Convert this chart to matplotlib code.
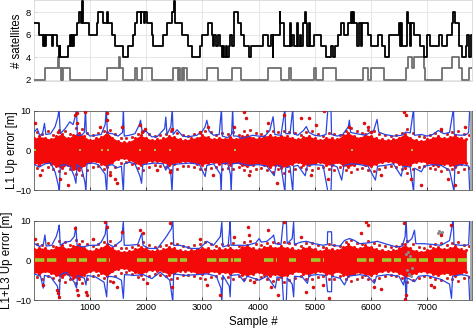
import numpy as np
import matplotlib
matplotlib.use("Agg")
import matplotlib.pyplot as plt

plt.rcParams['font.family'] = ['Liberation Sans', 'DejaVu Sans']

# ---------------------------------------------------------------- satellites
# step changes of the number of satellites: (first sample, count)
sat_l1_x = [0, 97, 157, 175, 195, 225, 317, 335, 417, 445, 460, 475, 614, 650, 665, 680, 700, 715,
            774, 810, 835, 850, 860, 870, 881, 988, 1119, 1148, 1237, 1297, 1327, 1386, 1446, 1594,
            1683, 1772, 1802, 1832, 1900, 1915, 1960, 1975, 2010, 2099, 2115, 2307, 2366, 2456, 2490,
            2505, 2634, 2740, 2812, 2961, 2990, 3109, 3169, 3190, 3210, 3240, 3270, 3317, 3347, 3370,
            3390, 3420, 3440, 3470, 3495, 3520, 3555, 3626, 3686, 3745, 3834, 3864, 4071, 4161, 4220,
            4250, 4265, 4375, 4390, 4458, 4560, 4575, 4600, 4640, 4680, 4695, 4740, 4760, 4790, 4830,
            4845, 4870, 4900, 4920, 4993, 5112, 5201, 5290, 5330, 5360, 5409, 5468, 5528, 5600, 5647,
            5660, 5680, 5706, 5760, 5780, 5830, 5850, 5944, 6003, 6122, 6200, 6258, 6317, 6495, 6520,
            6535, 6556, 6640, 6660, 6700, 6720, 6763, 6882, 6941, 7001, 7061, 7209, 7269, 7358, 7447,
            7470, 7490, 7566, 7626, 7685, 7715, 7744, 7790]
sat_l1_n = [7, 6, 5, 6, 5, 6, 5, 6, 5, 4, 5, 4, 5, 6, 5, 6, 5, 6,
            7, 8, 7, 8, 9, 8, 7, 6, 7, 8, 7, 8, 7, 6, 5, 4,
            5, 6, 7, 8, 7, 8, 7, 8, 7, 6, 5, 6, 7, 8, 9,
            7, 6, 5, 4, 5, 6, 7, 6, 5, 6, 5, 6, 5, 4, 5,
            4, 5, 4, 5, 6, 5, 8, 7, 6, 5, 4, 5, 6, 5, 6,
            4, 6, 8, 7, 5, 7, 5, 6, 5, 7, 5, 6, 5, 7, 8,
            7, 5, 7, 5, 6, 5, 4, 5, 4, 5, 6, 7, 6, 7, 8,
            7, 8, 7, 5, 7, 5, 7, 6, 5, 6, 5, 4, 6, 7, 5,
            7, 5, 8, 7, 5, 7, 6, 5, 4, 6, 5, 6, 5, 6, 7,
            8, 7, 5, 4, 5, 6, 4, 6]

sat_l3_x = [0, 198, 432, 442, 483, 495, 505, 524, 643, 1297, 1520, 1530, 1582, 1802, 1832, 1921,
            2099, 2474, 2574, 2590, 2610, 2630, 2650, 2670, 2723, 3080, 3287, 3525, 3686, 4161,
            4399, 4547, 4577, 4993, 5023, 5141, 5379, 5854, 5944, 6003, 6241, 6627, 6657, 6735,
            6760, 6941, 6971, 7269, 7447, 7565, 7626, 7744]
sat_l3_n = [2, 3, 4, 3, 2, 3, 2, 3, 2, 3, 4, 3, 2, 3, 2, 3,
            2, 3, 2, 3, 2, 3, 2, 3, 2, 3, 2, 3, 2, 3,
            2, 3, 2, 3, 2, 3, 2, 3, 2, 3, 2, 3, 4, 3,
            4, 3, 2, 3, 4, 3, 2, 3]

sample_end = 7800
x_ticks = [1000, 2000, 3000, 4000, 5000, 6000, 7000]

# ------------------------------------------------------------- error clouds
cloud_x = np.arange(0, 7800, 100)
fringe_x = cloud_x + 50

l1_cloud_hi = [3.0, 3.5, 3.2, 2.8, 3.6, 4.2, 3.0, 3.8, 4.5, 3.5, 2.6, 3.0, 3.4, 4.6, 3.2, 2.4,
               2.0, 2.2, 3.0, 3.8, 3.2, 2.6, 2.8, 3.0, 3.6, 3.4, 2.8, 2.6, 3.0, 3.2, 3.8, 3.4,
               2.8, 3.2, 2.9, 3.3, 2.8, 3.6, 3.9, 3.2, 3.0, 3.6, 3.8, 3.4, 3.7, 3.5, 3.2, 2.8,
               3.4, 3.6, 3.0, 2.6, 3.2, 3.0, 2.8, 3.8, 4.4, 3.6, 3.2, 4.0, 3.6, 3.0, 2.8, 2.6,
               2.8, 3.2, 4.2, 3.2, 2.6, 2.4, 2.8, 3.2, 3.6, 3.0, 3.4, 3.8, 3.0, 2.8]
l1_cloud_lo = [-3.2, -3.6, -3.0, -3.4, -4.0, -4.5, -3.6, -4.8, -5.0, -3.8, -3.0, -2.8, -3.4, -4.2,
               -3.0, -2.2, -2.0, -2.4, -3.2, -3.8, -3.0, -2.6, -2.8, -3.0, -3.8, -3.4, -2.9, -2.8,
               -3.0, -3.4, -3.6, -3.2, -3.0, -3.4, -3.2, -3.6, -3.0, -3.8, -4.0, -3.6, -3.2, -3.8,
               -4.2, -3.6, -4.4, -4.0, -3.4, -3.0, -3.6, -3.8, -3.2, -3.0, -3.6, -3.8, -3.0, -3.8,
               -4.2, -3.6, -3.2, -3.8, -4.0, -3.4, -3.0, -2.8, -3.0, -3.4, -4.4, -3.6, -3.0, -2.8,
               -3.2, -3.6, -4.0, -3.4, -3.6, -4.2, -3.4, -3.2]
# loose samples just outside the dense part of the cloud
l1_fringe_hi = [4.6, 4.2, 4.8, 3.9, 5.2, 5.0, 4.1, 5.6, 5.4, 4.3, 3.9, 4.4, 5.0, 5.2, 4.0, 3.2,
                3.0, 3.4, 4.2, 5.0, 4.2, 3.6, 3.9, 4.1, 4.8, 4.4, 3.8, 3.6, 4.2, 4.4, 5.0, 4.6,
                3.8, 4.4, 4.0, 4.6, 3.8, 4.9, 5.1, 4.4, 4.2, 4.8, 5.0, 4.6, 4.9, 4.7, 4.4, 3.9,
                4.6, 4.8, 4.2, 3.6, 4.4, 4.2, 3.9, 5.0, 5.6, 4.8, 4.4, 5.2, 4.8, 4.2, 3.9, 3.6,
                3.9, 4.4, 5.4, 4.3, 3.6, 3.4, 3.9, 4.4, 4.8, 4.2, 4.6, 5.0, 4.1, 3.9]
l1_fringe_lo = [-4.4, -4.9, -4.1, -4.6, -5.3, -5.8, -4.8, -6.0, -6.2, -5.0, -4.1, -3.9, -4.6, -5.4,
                -4.2, -3.2, -3.0, -3.5, -4.4, -5.0, -4.2, -3.7, -3.9, -4.2, -5.0, -4.6, -4.0, -3.9,
                -4.2, -4.6, -4.8, -4.4, -4.2, -4.6, -4.4, -4.8, -4.1, -5.0, -5.2, -4.8, -4.4, -5.0,
                -5.4, -4.8, -5.6, -5.2, -4.6, -4.1, -4.8, -5.0, -4.4, -4.1, -4.8, -5.0, -4.2, -5.0,
                -5.4, -4.8, -4.4, -5.0, -5.2, -4.6, -4.1, -3.9, -4.2, -4.6, -5.6, -4.8, -4.1, -3.9,
                -4.4, -4.8, -5.2, -4.6, -4.8, -5.4, -4.6, -4.4]

l13_cloud_hi = [2.8, 3.2, 3.0, 2.6, 3.4, 3.8, 2.8, 3.6, 4.0, 3.2, 2.4, 2.8, 3.2, 4.2, 3.0, 2.4,
                2.2, 2.4, 2.8, 3.4, 3.0, 2.4, 2.6, 2.8, 3.4, 3.0, 2.6, 2.4, 2.6, 2.8, 3.2, 3.0,
                2.6, 3.0, 2.8, 3.2, 2.6, 3.4, 3.8, 3.0, 2.8, 3.4, 3.6, 3.2, 3.6, 3.2, 3.0, 2.6,
                3.2, 3.4, 2.8, 2.4, 3.0, 2.8, 2.6, 3.4, 4.0, 3.4, 3.0, 3.8, 3.4, 2.8, 2.6, 2.4,
                2.6, 3.0, 4.0, 3.0, 2.4, 2.2, 2.6, 3.0, 3.4, 2.8, 3.2, 3.6, 2.8, 2.6]
l13_cloud_lo = [-3.0, -3.4, -2.8, -3.2, -3.8, -4.2, -3.4, -4.4, -4.6, -3.6, -2.8, -2.6, -3.2,
                -4.0, -2.8, -2.2, -2.0, -2.4, -3.0, -3.6, -2.8, -2.4, -2.6, -2.8, -3.6, -3.2,
                -2.6, -2.6, -2.8, -3.2, -3.4, -3.0, -2.8, -3.2, -3.0, -3.4, -2.8, -3.6, -3.8,
                -3.4, -3.0, -3.6, -4.0, -3.4, -4.2, -3.8, -3.2, -2.8, -3.4, -3.6, -3.0, -2.8,
                -3.4, -3.6, -2.8, -3.6, -4.0, -3.4, -3.0, -3.6, -3.8, -3.2, -2.8, -2.6, -2.8,
                -3.2, -4.2, -3.8, -3.2, -2.8, -3.0, -3.4, -3.8, -3.2, -3.4, -4.0, -3.2, -3.0]
l13_fringe_hi = [4.2, 3.9, 4.5, 3.6, 4.8, 4.6, 3.8, 5.2, 5.0, 4.0, 3.5, 4.0, 4.6, 5.0, 3.8, 3.2,
                 3.0, 3.3, 3.9, 4.6, 3.9, 3.4, 3.6, 3.8, 4.5, 4.0, 3.5, 3.4, 3.8, 4.0, 4.6, 4.2,
                 3.6, 4.0, 3.8, 4.3, 3.6, 4.6, 4.9, 4.1, 3.9, 4.5, 4.7, 4.3, 4.6, 4.4, 4.1, 3.6,
                 4.3, 4.5, 3.9, 3.4, 4.1, 3.9, 3.6, 4.6, 5.2, 4.4, 4.1, 4.9, 4.5, 3.9, 3.6, 3.4,
                 3.6, 4.1, 5.0, 4.0, 3.4, 3.2, 3.6, 4.1, 4.5, 3.9, 4.3, 4.7, 3.8, 3.6]
l13_fringe_lo = [-4.2, -4.6, -3.9, -4.4, -5.0, -5.5, -4.6, -5.6, -5.8, -4.8, -3.9, -3.7, -4.4,
                 -5.2, -4.0, -3.2, -3.0, -3.4, -4.2, -4.8, -4.0, -3.5, -3.7, -4.0, -4.8, -4.4,
                 -3.8, -3.7, -4.0, -4.4, -4.6, -4.2, -4.0, -4.4, -4.2, -4.6, -3.9, -4.8, -5.0,
                 -4.6, -4.2, -4.8, -5.2, -4.6, -5.4, -5.0, -4.4, -3.9, -4.6, -4.8, -4.2, -3.9,
                 -4.6, -4.8, -4.0, -4.8, -5.2, -4.6, -4.2, -4.8, -5.0, -4.4, -3.9, -3.7, -4.0,
                 -4.4, -5.4, -5.0, -4.4, -3.9, -4.2, -4.6, -5.0, -4.4, -4.6, -5.2, -4.4, -4.2]

# isolated error samples outside the main cloud: (sample, error in m)
l1_out_x = [20, 110, 435, 465, 614, 733, 762, 774, 911, 1178, 1297, 1310, 1356, 1446, 1476, 1565,
            1891, 1920, 1980, 2188, 2426, 2456, 2961, 3109, 3198, 3555, 3745, 3775, 3834, 4161,
            4328, 4458, 4755, 4903, 4933, 5023, 5159, 5230, 5617, 5884, 5944, 6003, 6182, 6597,
            6627, 6716, 6895, 7251, 7370, 7489, 7667]
l1_out_y = [6.8, -6.2, 4.7, -7.1, -8.7, 8.9, 9.3, 6.8, 9.7, 6.0, 9.3, 7.6, -6.2, -7.1, -8.3, 6.0,
            6.4, 4.7, 5.5, -5.0, -5.4, 5.5, 4.7, 6.0, -6.2, 6.0, 9.7, 8.1, -6.2, 6.8,
            -8.3, 8.9, 8.1, 8.1, -6.2, 6.4, 9.8, -7.1, 6.0, 6.8, 6.0, 4.7, -6.2, 9.7,
            8.9, -7.1, -8.7, 5.5, -7.1, -8.7, 6.0]

l13_out_x = [20, 168, 405, 435, 453, 733, 762, 792, 928, 940, 1059, 1267, 1297, 1416, 1476, 1565,
             1891, 1950, 2010, 2426, 2456, 2961, 3080, 3317, 3555, 3805, 3834, 3924, 4161, 4220,
             4339, 4458, 4755, 4845, 4963, 5141, 5260, 5825, 5914, 5944, 6063, 6182, 6597, 6615,
             6627, 7073, 7132, 7251, 7430]
l13_out_y = [5.5, -6.2, -7.5, -8.3, -9.2, 8.1, -7.5, -8.7, -7.9, -8.7, 5.5, 9.7, 8.5, -5.4, -6.6,
             7.2, 7.6, 6.8, -5.8, 9.3, -6.6, 5.5, -6.2, -8.7, 6.0, 8.5, 6.4, -5.4, 7.6, -6.6,
             -8.7, 9.7, 6.0, -7.9, -6.6, -6.2, -9.6, 6.8, 9.7, 8.9, -6.6, -7.1, 9.3, -9.8,
             -8.7, -6.2, -6.6, 6.4, 8.9]

# -------------------------------------------------------- error bounds (blue)
l1_up_x = [0, 60, 100, 150, 190, 215, 300, 380, 430, 450, 470, 560, 640, 700, 745, 760, 775, 850,
           900, 920, 935, 1000, 1100, 1200, 1270, 1290, 1310, 1400, 1500, 1580, 1594, 1610, 1700,
           1800, 1880, 1900, 1930, 2000, 2100, 2200, 2330, 2350, 2370, 2440, 2465, 2480, 2550, 2650,
           2750, 2900, 3000, 3050, 3080, 3120, 3200, 3300, 3340, 3355, 3450, 3520, 3540, 3555, 3620,
           3700, 3800, 3900, 4000, 4100, 4200, 4260, 4290, 4400, 4470, 4485, 4560, 4610, 4625, 4700,
           4800, 4850, 4900, 5000, 5100, 5200, 5235, 5290, 5300, 5400, 5500, 5600, 5617, 5640, 5750,
           5900, 6050, 6110, 6140, 6250, 6400, 6550, 6620, 6700, 6760, 6775, 6900, 7000, 7100, 7200,
           7300, 7400, 7470, 7485, 7600, 7700, 7740, 7760, 7800]
l1_up_y = [4.5, 5.5, 4.0, 3.8, 6.8, 4.0, 4.2, 6.0, 8.5, 10.5, 4.2, 5.5, 7.2, 6.5, 9.0, 10.5, 3.8, 3.8,
           4.5, 10.5, 4.5, 3.6, 3.8, 4.0, 6.5, 10.5, 4.4, 4.2, 3.6, 4.5, 10.5, 3.6, 3.8,
           4.2, 6.5, 7.6, 4.6, 4.8, 3.4, 3.5, 5.5, 8.4, 4.0, 6.0, 10.5, 4.0, 5.2, 3.6,
           3.4, 3.8, 4.8, 6.0, 7.6, 4.8, 3.8, 4.0, 10.5, 3.6, 3.2, 4.0, 10.5, 3.6, 3.6,
           3.0, 3.4, 3.8, 3.6, 3.4, 5.0, 8.5, 4.0, 3.8, 10.5, 4.2, 4.2, 10.5, 4.2, 3.8,
           5.0, 6.0, 4.5, 3.8, 3.6, 4.0, 10.5, 10.5, 4.0, 3.6, 4.0, 6.0, 7.6, 4.5, 4.2,
           3.8, 5.0, 7.8, 4.6, 4.0, 3.6, 3.8, 4.6, 4.4, 10.5, 3.8, 4.0, 3.6, 4.0, 5.0,
           4.2, 4.5, 10.5, 4.0, 3.8, 4.0, 4.5, 10.5, 10.5]
l1_lo_x = [0, 100, 200, 300, 380, 440, 455, 470, 560, 650, 720, 750, 770, 850, 910, 928, 945, 1050,
           1150, 1270, 1297, 1315, 1400, 1480, 1560, 1594, 1610, 1700, 1800, 1890, 1918, 1940, 2050,
           2150, 2300, 2350, 2380, 2440, 2460, 2480, 2600, 2800, 2950, 3050, 3080, 3200, 3320, 3335,
           3350, 3450, 3500, 3513, 3530, 3650, 3750, 3850, 4000, 4150, 4280, 4310, 4400, 4470, 4485,
           4560, 4610, 4625, 4700, 4830, 4870, 5000, 5150, 5235, 5290, 5305, 5400, 5480, 5520, 5650,
           5800, 5950, 6080, 6120, 6250, 6400, 6540, 6575, 6700, 6760, 6775, 6900, 6950, 7100, 7250,
           7400, 7460, 7480, 7495, 7600, 7700, 7740, 7760, 7800]
l1_lo_y = [-3.5, -4.2, -3.4, -3.2, -5.5, -9.0, -10.5, -3.8, -3.6, -4.2, -6.5, -8.3, -3.6, -4.5, -8.0,
           -10.5, -3.4, -3.2, -3.6, -6.0, -10.5, -3.8, -3.6, -4.4, -4.0, -10.5, -3.4, -3.0, -3.4,
           -6.5, -8.3, -3.6, -3.4, -3.2, -3.4, -5.0, -3.6, -6.0, -10.5, -3.6, -3.4, -3.2, -3.6,
           -6.6, -3.8, -3.4, -6.0, -10.5, -3.4, -3.2, -6.0, -10.5, -3.4, -3.2, -3.6, -3.8, -3.6,
           -4.0, -6.4, -3.8, -4.0, -10.5, -4.4, -4.0, -10.5, -4.0, -3.8, -6.4, -3.8, -3.6, -3.8,
           -10.5, -10.5, -3.6, -4.2, -7.5, -3.8, -3.4, -3.6, -4.0, -7.5, -4.0, -3.8, -3.4, -6.5,
           -4.0, -4.2, -10.5, -4.5, -5.4, -4.0, -3.6, -3.8, -5.0, -9.0, -10.5, -4.0, -3.6, -3.8,
           -4.0, -10.5, -10.5]

l13_up_x = [0, 100, 170, 198, 220, 320, 400, 440, 453, 470, 560, 650, 720, 750, 770, 870, 1000, 1120,
            1200, 1270, 1297, 1315, 1420, 1560, 1594, 1610, 1700, 1850, 1900, 1921, 1945, 2050, 2200,
            2350, 2450, 2474, 2490, 2600, 2800, 2950, 3080, 3200, 3320, 3347, 3365, 3460, 3480, 3495,
            3510, 3650, 3800, 3950, 4012, 4050, 4150, 4250, 4268, 4300, 4400, 4445, 4494, 4510, 4600,
            4625, 4640, 4750, 4850, 5000, 5150, 5225, 5230, 5300, 5305, 5450, 5530, 5620, 5710, 5800,
            5950, 6115, 6250, 6450, 6560, 6610, 6627, 6645, 6730, 6776, 6800, 6950, 7100, 7250, 7400,
            7450, 7465, 7480, 7600, 7700, 7740, 7760, 7800]
l13_up_y = [4.3, 3.5, 4.0, 6.4, 3.6, 3.8, 6.0, 8.0, 8.9, 3.8, 4.6, 4.8, 6.0, 8.5, 3.8, 3.4, 3.8, 3.8,
            4.6, 6.5, 9.7, 4.2, 3.4, 5.0, 9.7, 3.8, 3.8, 4.0, 6.0, 6.8, 3.8, 3.0, 3.0,
            5.8, 8.0, 10.5, 3.8, 3.8, 3.0, 3.0, 4.8, 3.8, 6.0, 9.7, 3.4, 3.8, 7.0, 9.7,
            3.8, 3.8, 3.8, 4.4, 5.5, 4.6, 4.8, 6.0, 6.4, 4.2, 4.0, 10.5, 10.5, 4.2, 5.5,
            9.7, 4.0, 4.6, 4.8, 4.2, 3.8, 4.0, 7.2, 7.2, 3.8, 3.6, 5.0, 5.5, 5.0, 4.2,
            4.4, 4.8, 4.2, 3.4, 3.6, 6.0, 10.5, 4.4, 5.5, 7.6, 4.2, 4.2, 4.0, 3.8, 5.0,
            8.9, 10.5, 4.0, 3.8, 3.8, 4.0, 10.5, 10.5]
l13_lo_x = [0, 120, 168, 190, 300, 420, 453, 470, 580, 720, 760, 780, 900, 928, 950, 1100, 1250, 1297,
            1315, 1450, 1560, 1594, 1615, 1800, 1950, 2100, 2250, 2420, 2474, 2490, 2700, 2900, 3080,
            3250, 3330, 3347, 3365, 3480, 3495, 3510, 3650, 3745, 3800, 4012, 4150, 4298, 4330, 4420,
            4445, 4494, 4510, 4600, 4625, 4640, 4780, 4870, 4900, 5050, 5200, 5230, 5300, 5305, 5450,
            5530, 5600, 5800, 5950, 6063, 6100, 6300, 6500, 6580, 6610, 6627, 6645, 6776, 6850, 7000,
            7150, 7250, 7400, 7435, 7455, 7600, 7700, 7740, 7760, 7800]
l13_lo_y = [-3.4, -4.0, -7.0, -3.8, -4.2, -6.5, -9.6, -3.6, -3.0, -5.5, -7.0, -3.8, -4.5, -6.2, -3.8,
            -4.2, -5.5, -9.2, -4.0, -4.2, -5.0, -9.6, -3.6, -3.8, -3.6, -4.6, -3.0, -5.0, -10.5,
            -3.4, -3.8, -3.6, -3.4, -4.0, -7.0, -10.5, -3.8, -6.5, -9.2, -3.8, -3.6, -5.4, -4.0,
            -5.0, -4.0, -7.0, -4.2, -4.4, -10.5, -10.5, -4.4, -6.0, -9.2, -4.0, -4.2, -5.8, -3.8,
            -3.6, -3.8, -7.9, -7.9, -4.0, -4.5, -6.2, -4.0, -3.6, -4.0, -5.8, -4.0, -3.6, -4.0,
            -6.2, -4.0, -10.5, -4.4, -5.4, -4.0, -3.8, -4.4, -4.8, -6.0, -9.6, -4.0, -3.6, -3.8,
            -4.0, -10.5, -10.5]

# ------------------------------------------------ fixed-ambiguity epochs (green)
l1_fix_x = [20, 820, 1210, 1320, 1890, 2160, 2430, 3590, 5670, 6740]
l13_fix_start = [20, 590, 1120, 1835, 2390, 3085, 3570, 4100, 4550, 4940, 5760, 6190, 6650, 7130]
l13_fix_end = [430, 945, 1357, 2125, 2725, 3550, 3680, 4330, 4660, 5170, 6060, 6540, 7010, 7720]

# float solution samples (gray)
l13_float_x = [6620, 6640, 6660, 6680, 6700, 6720, 6740, 7190, 7210, 7240, 7260]
l13_float_y = [1.5, -2.5, 2.0, -3.5, 1.0, -4.0, -2.0, 7.0, 7.3, 6.8, 7.1]
tail_band = [7765, 7800]

# ------------------------------------------------------------------- drawing
RED = '#f50a0a'
BLUE = '#2a45e0'
GREEN = '#9ccc2c'
W, H = 474, 332
fig = plt.figure(figsize=(W / 100, H / 100), dpi=100)

x0, x1 = 33.8 / W, 472.0 / W


def axes_px(top, bottom):
    return fig.add_axes([x0, 1 - bottom / H, x1 - x0, (bottom - top) / H])


ax_sat = axes_px(0.0, 81.0)
ax_l1 = axes_px(110.7, 190.0)
ax_l13 = axes_px(220.7, 300.0)

tick_fs = 6.8
label_fs = 8.3

# satellites panel
ax_sat.step(sat_l3_x + [sample_end], sat_l3_n + [sat_l3_n[-1]], where='post',
            color='#707070', lw=1.3, zorder=3)
ax_sat.step(sat_l1_x + [sample_end], sat_l1_n + [sat_l1_n[-1]], where='post',
            color='black', lw=1.3, zorder=4)
ax_sat.set_ylim(1.87, 9.07)
ax_sat.set_yticks([2, 4, 6, 8])
ax_sat.grid(True, color='#e3e3e3', lw=0.6)
for s in ax_sat.spines.values():
    s.set_color('#d8d8d8')
    s.set_linewidth(0.6)
ax_sat.tick_params(colors='#d0d0d0', labelcolor='black')
ax_sat.set_ylabel('# satellites', fontsize=label_fs, va='center')
ax_sat.yaxis.set_label_coords((16.7 - 33.8) / (W * (x1 - x0)), 0.5)


def error_panel(ax, hi, lo, f_hi, f_lo, up_x, up_y, lo_x, lo_y, out_x, out_y, ylabel, lab_px):
    ax.fill_between(cloud_x, lo, hi, color=RED, lw=0, zorder=3)
    ax.plot(cloud_x, hi, 'o', color=RED, ms=2.2, mew=0, zorder=3)
    ax.plot(cloud_x, lo, 'o', color=RED, ms=2.2, mew=0, zorder=3)
    ax.plot(fringe_x, f_hi, 'o', color=RED, ms=1.8, mew=0.3, mec='#a00000', zorder=3)
    ax.plot(fringe_x, f_lo, 'o', color=RED, ms=1.8, mew=0.3, mec='#a00000', zorder=3)
    ax.plot(up_x, up_y, color=BLUE, lw=0.9, zorder=4)
    ax.plot(lo_x, lo_y, color=BLUE, lw=0.9, zorder=4)
    ax.plot(out_x, out_y, 'o', color=RED, ms=2.2, mew=0.3, mec='#b00000', zorder=4.5)
    ax.fill_betweenx([-10, 10], tail_band[0], tail_band[1], color='#a9a9a9', lw=0, zorder=5)
    ax.set_ylim(-10, 10)
    ax.set_yticks([-10, 0, 10])
    ax.grid(True, axis='x', color='#b8b8b8', lw=0.6, zorder=1)
    ax.set_axisbelow(True)
    for s in ax.spines.values():
        s.set_color('#5a5a5a')
        s.set_linewidth(0.6)
    ax.set_ylabel(ylabel, fontsize=label_fs, va='center')
    ax.yaxis.set_label_coords((lab_px - 33.8) / (W * (x1 - x0)), 0.5)


error_panel(ax_l1, l1_cloud_hi, l1_cloud_lo, l1_fringe_hi, l1_fringe_lo,
            l1_up_x, l1_up_y, l1_lo_x, l1_lo_y, l1_out_x, l1_out_y, 'L1 Up error [m]', 11.7)
ax_l1.plot(l1_fix_x, [0] * len(l1_fix_x), 's', color='#a8c040', ms=1.8, mew=0, zorder=6)

error_panel(ax_l13, l13_cloud_hi, l13_cloud_lo, l13_fringe_hi, l13_fringe_lo,
            l13_up_x, l13_up_y, l13_lo_x, l13_lo_y, l13_out_x, l13_out_y,
            'L1+L3 Up error [m]', 7.0)
ax_l13.plot(l13_float_x, l13_float_y, 'o', color='#8a8a8a', ms=2.2, mew=0, zorder=4)
for a, b in zip(l13_fix_start, l13_fix_end):
    ax_l13.plot([a, b], [0, 0], color=GREEN, lw=2.6, dashes=(2.6, 0.7), zorder=6)

for ax in (ax_sat, ax_l1, ax_l13):
    ax.set_xlim(0, sample_end)
    ax.set_xticks(x_ticks)
    ax.tick_params(direction='in', length=2, width=0.5, labelsize=tick_fs, pad=2)
ax_sat.tick_params(labelbottom=False)
ax_l1.tick_params(labelbottom=False)
ax_l13.set_xlabel('Sample #', fontsize=label_fs, labelpad=3)

fig.savefig('out.png', dpi=100)
